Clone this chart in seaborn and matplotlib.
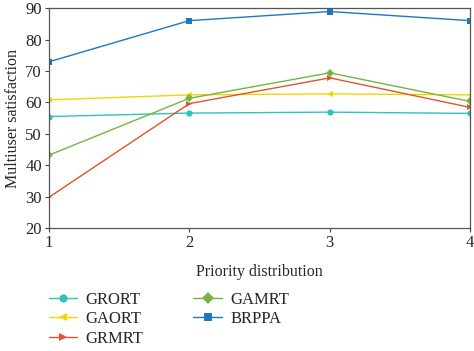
import pandas as pd
import matplotlib.pyplot as plt
import seaborn as sns

# Chart data
priority = [1, 2, 3, 4]
grort = [55.5, 56.6, 56.9, 56.5]
gaort = [60.8, 62.4, 62.7, 62.4]
grmrt = [29.8, 59.6, 67.8, 58.4]
gamrt = [43.2, 61.3, 69.4, 60.3]
brppa = [72.9, 86.0, 88.9, 86.0]

methods = ["GRORT", "GAORT", "GRMRT", "GAMRT", "BRPPA"]
series = [grort, gaort, grmrt, gamrt, brppa]

df = pd.DataFrame({
    "Priority distribution": priority * len(methods),
    "Multiuser satisfaction": [v for s in series for v in s],
    "Method": [m for m in methods for _ in priority],
})

colors = {"GRORT": "#2ec2c0", "GAORT": "#f2d600", "GRMRT": "#e0552a",
          "GAMRT": "#76b443", "BRPPA": "#1f77c4"}
markers = {"GRORT": "o", "GAORT": "<", "GRMRT": ">", "GAMRT": "D", "BRPPA": "s"}

sns.set_style("ticks")
plt.rcParams["font.family"] = ["Liberation Serif", "DejaVu Serif"]

fig = plt.figure(figsize=(4.74, 3.51), dpi=100)
ax = fig.add_axes([0.103, 0.350, 0.889, 0.627])

sns.lineplot(ax=ax, data=df, x="Priority distribution", y="Multiuser satisfaction",
             hue="Method", style="Method", palette=colors, markers=markers,
             dashes=False, linewidth=1.0, markersize=4.5, markeredgewidth=0)

ax.set_xlim(1, 4)
ax.set_ylim(20, 90)
ax.set_xticks(priority)
ax.set_yticks(range(20, 91, 10))
ax.tick_params(labelsize=12, length=3, color="#444444", pad=2)
ax.set_xlabel("Priority distribution", fontsize=11.5, labelpad=9)
ax.set_ylabel("Multiuser satisfaction", fontsize=11.5, labelpad=3)
for sp in ax.spines.values():
    sp.set_color("#555555")
    sp.set_linewidth(0.9)

handles, labels = ax.get_legend_handles_labels()
leg = ax.legend(handles, labels, loc="upper left", bbox_to_anchor=(0.0, -0.29),
                ncol=2, frameon=False, fontsize=12, handlelength=1.7,
                handletextpad=0.5, columnspacing=3.0, labelspacing=0.2,
                borderpad=0, borderaxespad=0, markerscale=1.3)

fig.savefig("out.png", dpi=100)
